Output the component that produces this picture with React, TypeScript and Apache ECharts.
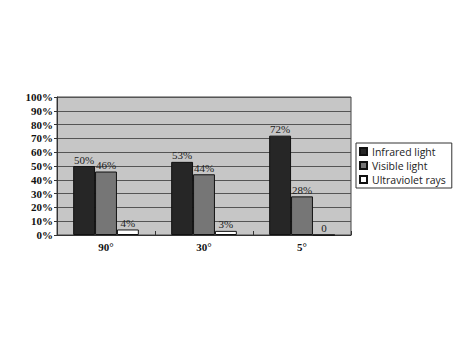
import React, { useEffect, useRef } from "react";
import * as echarts from "echarts";

const categories = ["90°", "30°", "5°"];
const infrared = [50, 53, 72];
const visible = [46, 44, 28];
const ultraviolet = [4, 3, 0];
const yTicks = [0, 10, 20, 30, 40, 50, 60, 70, 80, 90, 100];

const serif = "'Liberation Serif', 'Times New Roman', serif";

export default function App() {
  const ref = useRef<HTMLDivElement>(null);
  useEffect(() => {
    const chart = echarts.init(ref.current!, null, { renderer: "svg" });
    const label = {
      show: true,
      position: "top" as const,
      distance: 1,
      fontFamily: serif,
      fontSize: 11,
      color: "#222",
      formatter: (p: any) => (p.value === 0 ? "0" : p.value + "%"),
    };
    const mk = (name: string, data: number[], color: string) => ({
      name,
      type: "bar",
      data,
      barGap: "0%",
      barCategoryGap: "33%",
      itemStyle: { color, borderColor: "#111", borderWidth: 1 },
      label,
    });
    chart.setOption({
      animation: false,
      grid: {
        left: 57,
        top: 97,
        width: 294,
        height: 138,
        show: true,
        backgroundColor: "#c6c6c6",
        borderColor: "#444",
        borderWidth: 1,
      },
      legend: {
        orient: "vertical",
        left: 356,
        top: 143,
        padding: [3, 6, 3, 3],
        itemGap: 3,
        itemWidth: 7,
        itemHeight: 7,
        icon: "rect",
        borderColor: "#333",
        borderWidth: 1,
        textStyle: { fontFamily: "'Open Sans', 'DejaVu Sans', sans-serif", fontSize: 10.5, color: "#222", padding: [0, 0, 0, 0] },
        data: ["Infrared light", "Visible light", "Ultraviolet rays"],
      },
      xAxis: {
        type: "category",
        data: categories,
        axisLine: { lineStyle: { color: "#333" } },
        axisTick: { show: true, inside: true, length: 4, lineStyle: { color: "#333" } },
        axisLabel: { fontFamily: serif, fontSize: 11, fontWeight: "bold", color: "#111", margin: 6 },
      },
      yAxis: {
        type: "value",
        min: yTicks[0],
        max: yTicks[yTicks.length - 1],
        interval: 10,
        axisLine: { show: true, lineStyle: { color: "#333" } },
        axisTick: { show: true, length: 3, lineStyle: { color: "#333" } },
        axisLabel: {
          fontFamily: serif,
          fontSize: 11,
          fontWeight: "bold",
          color: "#111",
          margin: 4,
          formatter: (v: number) => v + "%",
        },
        splitLine: { show: true, lineStyle: { color: "#555", width: 1 } },
      },
      series: [
        mk("Infrared light", infrared, "#262626"),
        mk("Visible light", visible, "#767676"),
        mk("Ultraviolet rays", ultraviolet, "#ffffff"),
      ],
    });
    return () => chart.dispose();
  }, []);
  return (
    <div
      ref={ref}
      style={{ position: "fixed", left: 0, top: 0, width: 474, height: 355, background: "#fff" }}
    />
  );
}
